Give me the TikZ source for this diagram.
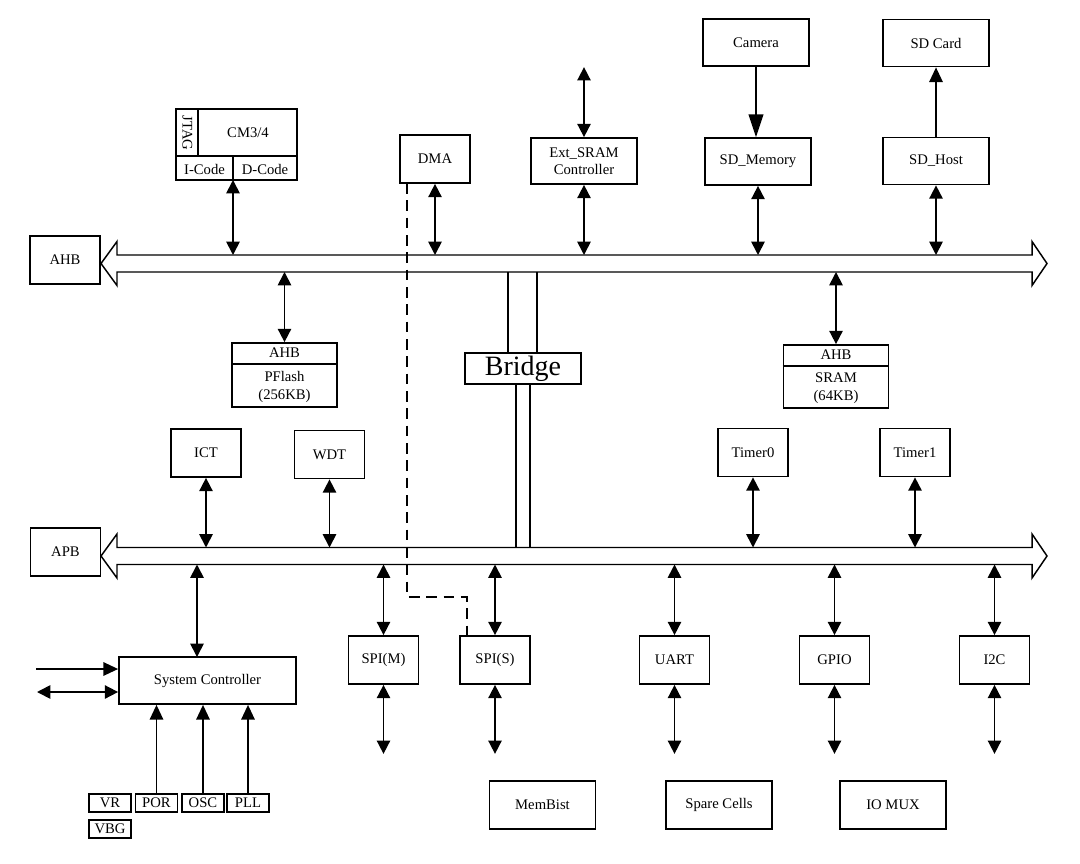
\documentclass[tikz,border=0pt]{standalone}
\usepackage{fontspec}
\setmainfont{Liberation Serif}
\usetikzlibrary{arrows.meta,positioning,calc}

\tikzset{
  blk/.style={draw, line width=1.3pt, inner sep=0pt, align=center},
  bigbox/.style={blk, minimum width=79.5pt, minimum height=35.25pt},
  smallbox/.style={blk, minimum width=52.5pt, minimum height=36pt},
  tinybox/.style={draw, line width=0.8pt, inner sep=0pt, minimum width=31.5pt, minimum height=13.5pt},
  link/.style={line width=1.3pt, {Triangle[width=10pt,length=10pt]}-{Triangle[width=10pt,length=10pt]}},
  feed/.style={line width=1.3pt, -{Triangle[width=10pt,length=11pt]}},
  buswire/.style={line width=1.1pt},
  dmadash/.style={line width=1.1pt, dash pattern=on 8pt off 5pt}
}

\begin{document}
\begin{tikzpicture}[x=0.75pt, y=-0.75pt, font=\fontsize{11}{13}\selectfont]
\useasboundingbox (0,0) rectangle (1080,863);

% Bus edges
\coordinate (ahbT) at (0,255);
\coordinate (ahbB) at (0,272);
\coordinate (apbT) at (0,547.5);
\coordinate (apbB) at (0,564.5);

% Two wide bus arrows
\foreach \busy in {263.5,556} {
    \draw[buswire] (101,\busy) -- (117,\busy-22) -- (117,\busy-8.5) -- (1032,\busy-8.5)
        -- (1032,\busy-22) -- (1047,\busy) -- (1032,\busy+22) -- (1032,\busy+8.5)
        -- (117,\busy+8.5) -- (117,\busy+22) -- cycle;
}
\node[smallbox] (ahb) at (65,260) {AHB};
\node[smallbox] (apb) at (65.5,552) {APB};

% CPU block
\node[blk, minimum width=90.75pt, minimum height=53.25pt] (cpu) at (236.5,144.5) {};
\draw[line width=1.3pt] ($(cpu.north west)+(0,48)$) -- ($(cpu.north east)+(0,48)$);
\draw[line width=1.3pt] ($(cpu.north west)+(23,0)$) -- ($(cpu.north west)+(23,48)$);
\draw[line width=1.3pt] (233,157) -- (233,180);
\coordinate (cpudiv) at (233,180);
\node[rotate=-90] (jtag) at (187.5,133) {JTAG};
\node (cm) at (248,133) {CM3/4};
\node (icode) at (204.5,169) {I-Code};
\node (dcode) at (265,169) {D-Code};

% Top row
\node[smallbox] (dma) at (435,159) {DMA};
\node[bigbox, minimum height=34.5pt, align=center] (ext) at (584,161) {Ext\_SRAM\\Controller};
\node[bigbox] (cam) at (756,42.5) {Camera};
\node[bigbox] (sdm) at (758,161.5) {SD\_Memory};
\node[bigbox] (sdc) at (936,43) {SD Card};
\node[bigbox] (sdh) at (936,161) {SD\_Host};

\draw[link] (cpudiv) -- (cpudiv |- ahbT);
\foreach \n in {dma,ext,sdm,sdh} {
    \draw[link] (\n.south) -- (\n.south |- ahbT);
}
\draw[link] (ext.north) -- ++(0,-70);
\draw[line width=1.3pt, -{Triangle[width=11pt,length=17pt]}] (cam.south) -- (cam.south |- sdm.north);
\draw[feed] (sdh.north) -- (sdc.south);

% Memories on AHB
\node[blk, minimum width=78.75pt, minimum height=48pt] (pflash) at (284.5,375) {};
\draw[line width=1.3pt] ($(pflash.north west)+(0,22)$) -- ($(pflash.north east)+(0,22)$);
\node (pfahb) at ($(pflash.north)+(0,11)$) {AHB};
\node[align=center] (pftxt) at ($(pflash.south)+(0,-21)$) {PFlash\\(256KB)};

\node[blk, minimum width=78.75pt, minimum height=47.25pt] (sram) at (836,376.5) {};
\draw[line width=1.3pt] ($(sram.north west)+(0,22)$) -- ($(sram.north east)+(0,22)$);
\node (srahb) at ($(sram.north)+(0,11)$) {AHB};
\node[align=center] (srtxt) at ($(sram.south)+(0,-20.5)$) {SRAM\\(64KB)};

\foreach \n in {pflash,sram} {
    \draw[link] (ahbB -| \n.north) -- (\n.north);
}

% Bridge between the buses
\node[draw, line width=1.3pt, minimum width=87pt, minimum height=23.25pt, inner sep=0pt,
      font=\fontsize{21}{24}\selectfont] (bridge) at (523,368.5) {Bridge};
\foreach \bx in {508,537} {
    \draw[buswire] (\bx,272) -- (\bx,353);
}
\foreach \bx in {516,530} {
    \draw[buswire] (\bx,384) -- (\bx,547.5);
}

% APB slaves above the bus
\node[smallbox] (ict) at (206,453) {ICT};
\node[smallbox] (wdt) at (329.5,454.5) {WDT};
\node[smallbox] (tim0) at (753,452.5) {Timer0};
\node[smallbox] (tim1) at (915,452.5) {Timer1};
\foreach \n in {ict,wdt,tim0,tim1} {
    \draw[link] (\n.south) -- (\n.south |- apbT);
}

% APB slaves below the bus
\node[smallbox] (spim) at (383.5,660) {SPI(M)};
\node[smallbox] (spis) at (495,660) {SPI(S)};
\node[smallbox] (uart) at (674.5,660) {UART};
\node[smallbox] (gpio) at (834.5,660) {GPIO};
\node[smallbox] (i2c) at (994.5,660) {I2C};
\foreach \n in {spim,spis,uart,gpio,i2c} {
    \draw[link] (apbB -| \n.north) -- (\n.north);
    \draw[link] (\n.south) -- ++(0,69);
}

% DMA handshake to SPI slave
\coordinate (dmad) at (407,183);
\draw[dmadash] (dmad) |- ($(spis.north)+(-28,-38)$) -- ($(spis.north)+(-28,0)$);

% System controller
\node[blk, minimum width=132.75pt, minimum height=35.25pt] (sysc) at (207.5,680.5) {System Controller};
\coordinate (scin) at (197,657);
\draw[link] (apbB -| scin) -- (scin);
\coordinate (ext1) at (36,669);
\coordinate (ext2) at (37,692);
\draw[feed] (ext1) -- (ext1 -| sysc.west);
\draw[link] (ext2) -- (ext2 -| sysc.west);

\node[tinybox] (vr) at (110,803) {VR};
\node[tinybox] (por) at (156.5,803) {POR};
\node[tinybox] (osc) at (203,803) {OSC};
\node[tinybox] (pll) at (248,803) {PLL};
\node[tinybox] (vbg) at (110,829) {VBG};
\foreach \n in {por,osc,pll} {
    \draw[feed] (\n.north) -- (\n.north |- sysc.south);
}

% Blocks along the bottom
\node[bigbox, minimum height=36pt] (membist) at (542.5,805) {MemBist};
\node[bigbox, minimum height=36pt] (spare) at (719,805) {Spare Cells};
\node[bigbox, minimum height=36pt] (iomux) at (893,805) {IO MUX};
\end{tikzpicture}
\end{document}
